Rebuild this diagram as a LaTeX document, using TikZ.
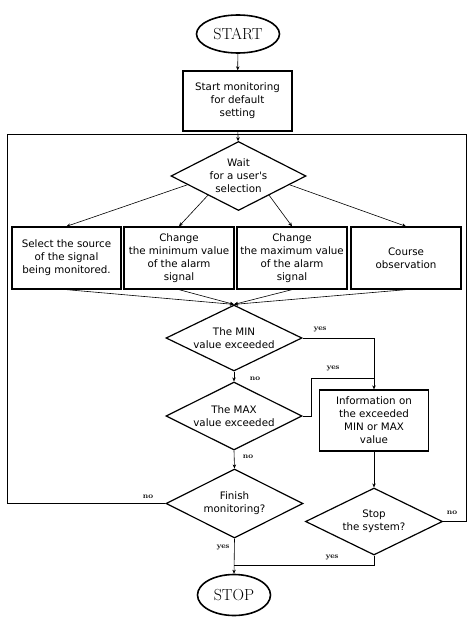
\documentclass[tikz,border=0pt]{standalone}
\usepackage{fontspec}
\newfontfamily\boxfont{DejaVu Sans}
\usetikzlibrary{shapes.geometric,arrows.meta,calc}
\begin{document}
\begin{tikzpicture}[x=1pt,y=-1pt,
  every node/.style={inner sep=0pt},
  term/.style={ellipse,draw,line width=1.6pt,font=\fontsize{16}{18}\selectfont},
  procbox/.style={rectangle,draw,line width=1.3pt,align=center,font=\boxfont\fontsize{10.3}{13}\selectfont},
  decis/.style={diamond,aspect=2,draw,line width=1.2pt,align=center,font=\boxfont\fontsize{10.3}{13}\selectfont},
  conn/.style={line width=0.6pt},
  arr/.style={conn,-{Stealth[length=4pt,width=3.5pt]}},
  lab/.style={font=\bfseries\fontsize{7.8}{9}\selectfont}]
\useasboundingbox (0,0) rectangle (474,634);

\node[term,minimum width=83pt,minimum height=38pt] (start) at (238,34) {START};
\node[procbox,minimum width=109pt,minimum height=60pt] (init) at (237.5,101) {Start monitoring\\for default\\setting};
\node[decis,minimum width=135pt,minimum height=69pt] (wait) at (238.5,176) {Wait\\for a user's\\selection};

\node[procbox,minimum width=109pt,minimum height=62pt] (b1) at (66.5,258) {Select the source\\of the signal\\being monitored.};
\node[procbox,minimum width=110pt,minimum height=62pt] (b2) at (179,258) {Change\\the minimum value\\of the alarm\\signal};
\node[procbox,minimum width=110pt,minimum height=62pt] (b3) at (292,258) {Change\\the maximum value\\of the alarm\\signal};
\node[procbox,minimum width=110pt,minimum height=62pt] (b4) at (406,258) {Course\\observation};

\node[decis,minimum width=136pt,minimum height=66pt] (min) at (234,338) {The MIN\\value exceeded};
\node[decis,minimum width=136pt,minimum height=68pt] (max) at (234,416) {The MAX\\value exceeded};
\node[decis,minimum width=137pt,minimum height=69pt] (fin) at (234.5,503.5) {Finish\\monitoring?};

\node[procbox,minimum width=109pt,minimum height=61pt] (info) at (374,420.5) {Information on\\the exceeded\\MIN or MAX\\value};
\node[decis,minimum width=137pt,minimum height=67pt] (stopq) at (374,521.5) {Stop\\the system?};

\node[term,minimum width=73pt,minimum height=41pt] (stop) at (234,595) {STOP};

\coordinate (TL) at (7,134);
\coordinate (TR) at (466,134);
\coordinate (K) at (311,378);
\coordinate (J) at (374,378);
\coordinate (M) at (234,565);

\draw[arr] (start) -- (init);
\draw[arr] (init) -- (wait);
\draw[arr] ($(wait.west)!0.25!(wait.south)$) -- (b1.north);
\draw[arr] ($(wait.west)!0.55!(wait.south)$) -- (b2.north);
\draw[arr] ($(wait.east)!0.55!(wait.south)$) -- (b3.north);
\draw[arr] ($(wait.east)!0.25!(wait.south)$) -- (b4.north);
\draw[arr] (b1.south) -- (min.north);
\draw[arr] (b2.south) -- (min.north);
\draw[arr] (b3.south) -- (min.north);
\draw[arr] (b4.south) -- (min.north);

\draw[arr] (min.south) -- (max.north);
\draw[arr] (max.south) -- (fin.north);
\draw[arr] (fin.south) -- (stop.north);
\draw[arr] (min.east) -| (info.north);
\draw[conn] (max.east) -| (K) -- (J);
\draw[arr] (info.south) -- (stopq.north);
\draw[conn] (stopq.south) |- (M);
\draw[conn] (fin.west) -| (TL) -- (TR) |- (stopq.east);

\node[lab] at (320,330) {yes};
\node[lab] at (333,369) {yes};
\node[lab] at (255,379) {no};
\node[lab] at (248,457) {no};
\node[lab] at (148,497) {no};
\node[lab] at (223,548) {yes};
\node[lab] at (452,513) {no};
\node[lab] at (332,558) {yes};
\end{tikzpicture}
\end{document}
